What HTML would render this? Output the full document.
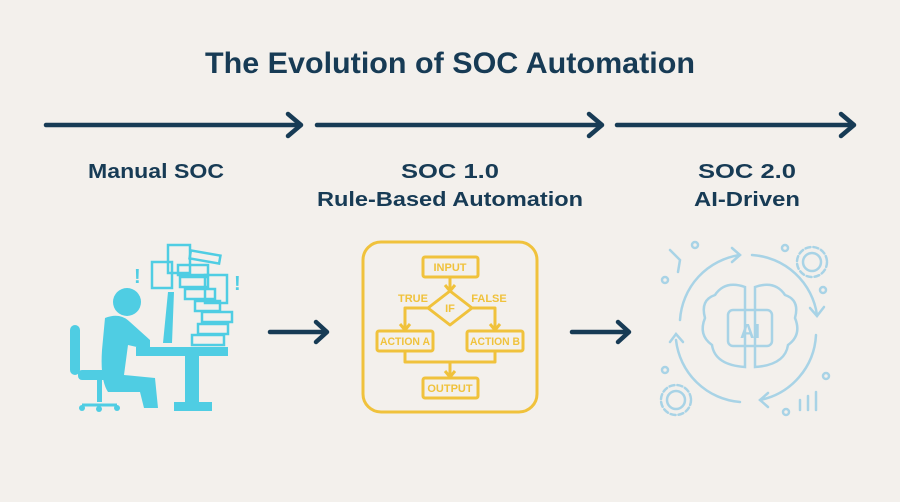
<!DOCTYPE html>
<html><head><meta charset="utf-8"><style>
html,body{margin:0;padding:0;background:#f3f0ec}
svg{display:block}
text{font-family:"Liberation Sans",sans-serif;font-weight:bold}
</style></head><body>
<svg width="900" height="502" viewBox="0 0 900 502">
<rect width="900" height="502" fill="#f3f0ec"/>
<text x="450" y="73" text-anchor="middle" font-size="30" fill="#173b55" textLength="490" lengthAdjust="spacingAndGlyphs">The Evolution of SOC Automation</text>
<g stroke="#173b55" stroke-width="4.5" fill="none" stroke-linecap="round" stroke-linejoin="round">
<line x1="46" y1="125" x2="300" y2="125"/><polyline points="288,114 301,125 288,136"/>
<line x1="317" y1="125" x2="601" y2="125"/><polyline points="589,114 602,125 589,136"/>
<line x1="617" y1="125" x2="853" y2="125"/><polyline points="841,114 854,125 841,136"/>
<line x1="270" y1="332" x2="326" y2="332"/><polyline points="316,322 327,332 316,342"/>
<line x1="572" y1="332" x2="628" y2="332"/><polyline points="618,322 629,332 618,342"/>
</g>
<g font-size="20" fill="#173b55" text-anchor="middle">
<text x="156" y="178" textLength="136" lengthAdjust="spacingAndGlyphs">Manual SOC</text>
<text x="450" y="178" textLength="98" lengthAdjust="spacingAndGlyphs">SOC 1.0</text>
<text x="450" y="206" textLength="266" lengthAdjust="spacingAndGlyphs">Rule-Based Automation</text>
<text x="747" y="178" textLength="98" lengthAdjust="spacingAndGlyphs">SOC 2.0</text>
<text x="747" y="206" textLength="106" lengthAdjust="spacingAndGlyphs">AI-Driven</text>
</g>
<!-- manual SOC person -->
<g fill="#4fcde3" stroke="#4fcde3">
<circle cx="127" cy="302" r="14" stroke="none"/>
<path d="M105 318 Q120 312 130 322 L150 340 L150 350 L128 345 L124 375 L155 378 L158 408 L144 408 L140 392 L108 392 Q100 380 102 350 Z" stroke="none"/>
<rect x="70" y="325" width="10" height="50" rx="5" stroke="none"/>
<rect x="78" y="370" width="45" height="10" rx="4" stroke="none"/>
<rect x="97" y="380" width="5" height="22" stroke="none"/>
<path d="M82 405 L117 405" stroke-width="3"/>
<circle cx="82" cy="408" r="3" stroke="none"/><circle cx="99" cy="409" r="3" stroke="none"/><circle cx="117" cy="408" r="3" stroke="none"/>
<rect x="136" y="347" width="92" height="9" stroke="none"/>
<rect x="185" y="356" width="14" height="48" stroke="none"/>
<rect x="174" y="402" width="38" height="9" stroke="none"/>
<path d="M168 292 L174 292 L172 343 L163 343 Z" stroke="none"/>
</g>
<g fill="none" stroke="#4fcde3" stroke-width="2.5">
<rect x="168" y="245" width="22" height="28"/><rect x="152" y="262" width="20" height="26"/>
<rect x="178" y="265" width="30" height="10"/><rect x="180" y="277" width="28" height="10"/>
<rect x="185" y="289" width="30" height="10"/><rect x="195" y="301" width="25" height="10"/>
<rect x="202" y="312" width="30" height="10"/><rect x="198" y="324" width="30" height="10"/>
<rect x="192" y="335" width="32" height="10"/><rect x="205" y="275" width="22" height="28"/>
<rect x="190" y="253" width="30" height="8" transform="rotate(10 205 257)"/>
</g>
<g fill="#4fcde3" font-size="20"><text x="134" y="283">!</text><text x="234" y="290">!</text></g>
<!-- flowchart -->
<g fill="none" stroke="#f0c23c" stroke-width="3" stroke-linejoin="round">
<rect x="363" y="242" width="174" height="170" rx="18"/>
<rect x="423" y="257" width="55" height="20" rx="2"/>
<polygon points="450,291 472,308 450,325 428,308"/>
<rect x="377" y="331" width="56" height="20" rx="2"/>
<rect x="467" y="331" width="56" height="20" rx="2"/>
<rect x="423" y="378" width="55" height="20" rx="2"/>
<line x1="450" y1="277" x2="450" y2="290"/><polyline points="445,285 450,291 455,285"/>
<polyline points="428,308 405,308 405,330"/><polyline points="400,324 405,330 410,324"/>
<polyline points="472,308 495,308 495,330"/><polyline points="490,324 495,330 500,324"/>
<polyline points="405,351 405,362 495,362 495,351"/>
<line x1="450" y1="362" x2="450" y2="377"/><polyline points="445,371 450,377 455,371"/>
</g>
<g fill="#f0c23c" font-size="11" text-anchor="middle">
<text x="450" y="271">INPUT</text><text x="450" y="312">IF</text>
<text x="413" y="302">TRUE</text><text x="489" y="302">FALSE</text>
<text x="405" y="345" textLength="50" lengthAdjust="spacingAndGlyphs">ACTION A</text><text x="495" y="345" textLength="50" lengthAdjust="spacingAndGlyphs">ACTION B</text>
<text x="450" y="392">OUTPUT</text>
</g>
<!-- AI brain -->
<g fill="none" stroke="#a8d3e6" stroke-width="2.5" stroke-linecap="round">
<path d="M680 320 A70 70 0 0 1 740 255"/><polyline points="732,248 740,255 732,262"/>
<path d="M752 255 A70 70 0 0 1 817 315"/><polyline points="810,308 817,316 824,307"/>
<path d="M816 335 A70 70 0 0 1 760 400"/><polyline points="768,393 760,400 768,407"/>
<path d="M740 402 A70 70 0 0 1 676 340"/><polyline points="670,342 676,334 683,342"/>
<path d="M745 287 Q725 280 715 295 Q700 300 705 318 Q698 335 712 345 Q715 365 745 367 Z"/>
<path d="M755 287 Q775 280 785 295 Q800 300 795 318 Q802 335 788 345 Q785 365 755 367 Z"/>
<rect x="728" y="310" width="44" height="36" rx="5"/>
<circle cx="812" cy="262" r="9"/><circle cx="812" cy="262" r="15" stroke-dasharray="5 3"/>
<circle cx="676" cy="400" r="9"/><circle cx="676" cy="400" r="15" stroke-dasharray="5 3"/>
<circle cx="665" cy="280" r="3"/><circle cx="695" cy="245" r="3"/><circle cx="785" cy="248" r="3"/>
<circle cx="823" cy="290" r="3"/><circle cx="665" cy="370" r="3"/><circle cx="826" cy="376" r="3"/>
<circle cx="786" cy="412" r="3"/>
<path d="M670 250 L680 260 L678 272"/>
<path d="M800 400 V410 M808 396 V410 M816 392 V410"/>
</g>
<text x="750" y="338" text-anchor="middle" font-size="20" fill="#a8d3e6">AI</text>
</svg>
</body></html>
